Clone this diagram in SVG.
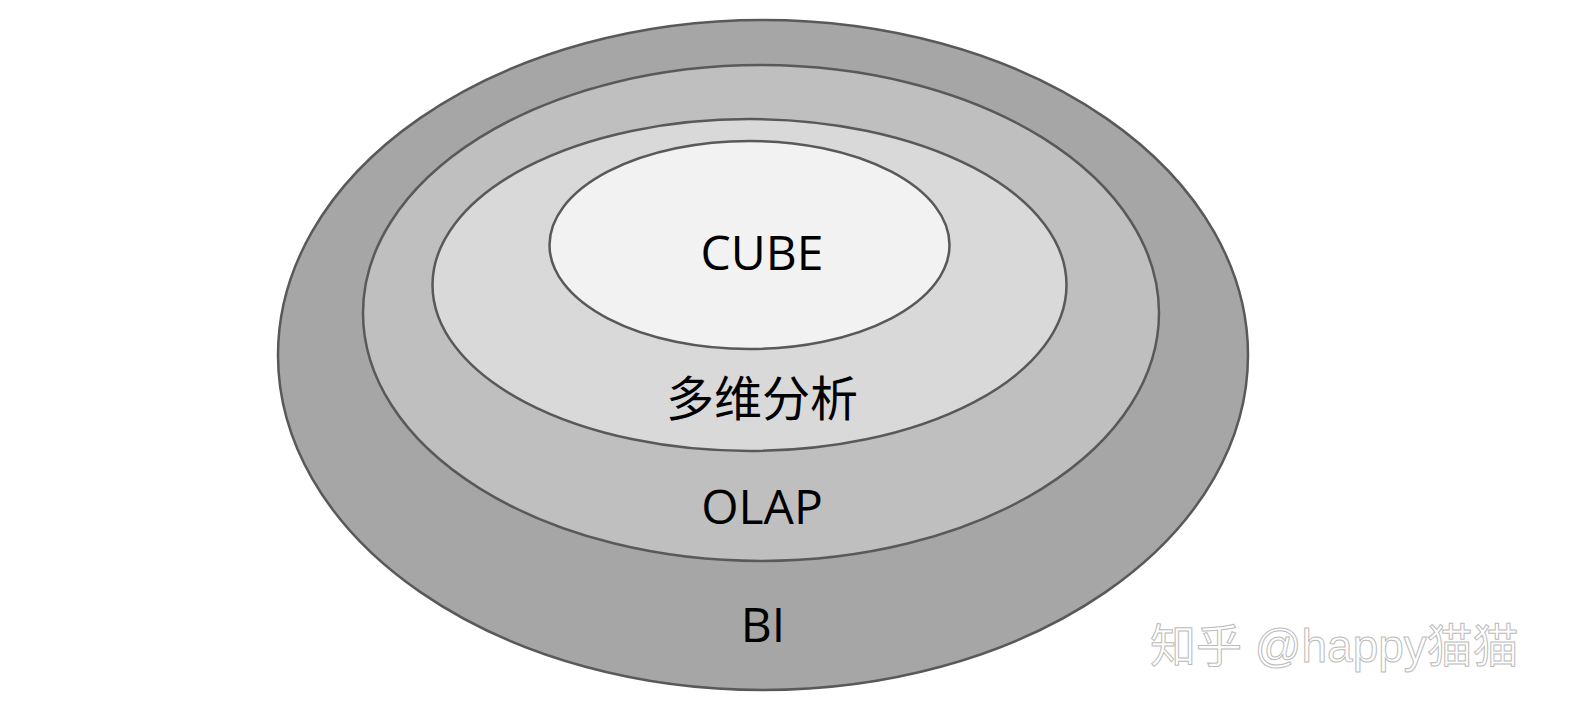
<svg xmlns="http://www.w3.org/2000/svg" width="1574" height="719" viewBox="0 0 1574 719">
<style>
.e{stroke:#595959;stroke-width:2.5}
.t{font-family:"Open Sans","Noto Sans CJK SC",sans-serif;font-size:48px;fill:#000;text-anchor:middle}
.w{font-family:"Liberation Sans","Noto Sans CJK SC",sans-serif;font-size:46px;fill:#fff;stroke:#bbb;stroke-width:1}
</style>
<rect width="1574" height="719" fill="#fff"/>
<g id="bi"><ellipse class="e" cx="763" cy="355" rx="485" ry="335" fill="#a6a6a6"/><text class="t" x="763" y="642">BI</text></g>
<g id="olap"><ellipse class="e" cx="761" cy="313" rx="398" ry="248" fill="#bfbfbf"/><text class="t" x="762" y="524">OLAP</text></g>
<g id="multi"><ellipse class="e" cx="749.5" cy="285" rx="317" ry="166" fill="#d9d9d9"/><text class="t" x="762" y="416" font-size="46">多维分析</text></g>
<g id="cube"><ellipse class="e" cx="749.5" cy="245" rx="200" ry="104" fill="#f2f2f2"/><text class="t" x="762" y="270">CUBE</text></g>
<g id="connectors"/>
<text class="w" x="1150" y="662">知乎 @happy猫猫</text>
</svg>
